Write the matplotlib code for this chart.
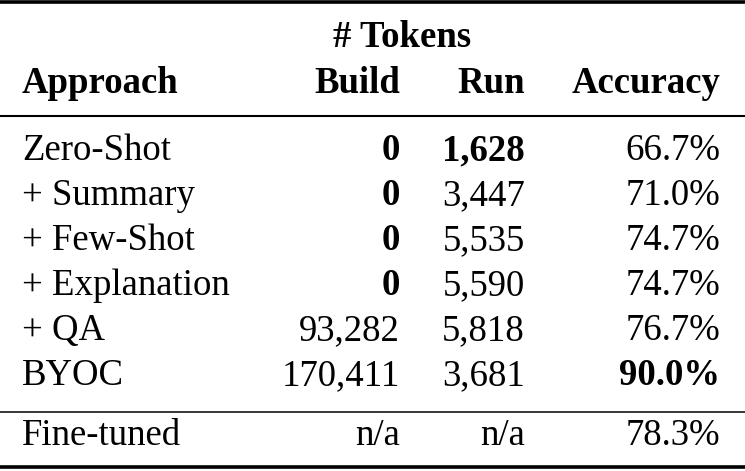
import matplotlib.pyplot as plt

plt.rcParams['font.family'] = ['Liberation Serif', 'DejaVu Serif']

# table contents
approaches = ['Zero-Shot', '+ Summary', '+ Few-Shot', '+ Explanation', '+ QA', 'BYOC', 'Fine-tuned']
build_tokens = [0, 0, 0, 0, 93282, 170411, None]
run_tokens = [1628, 3447, 5535, 5590, 5818, 3681, None]
accuracy = [66.7, 71.0, 74.7, 74.7, 76.7, 90.0, 78.3]
headers = ['Approach', 'Build', 'Run', 'Accuracy']
group_header = '# Tokens'

W, H = 745, 471
FS = 26.5

fig = plt.figure(figsize=(W / 100, H / 100), dpi=100)
ax = fig.add_axes([0, 0, 1, 1])
ax.set_xlim(0, W)
ax.set_ylim(H, 0)
ax.axis('off')

# column anchors (pixels)
x_app = 22
x_build = 400
x_run = 525
x_acc = 720
header_y = 93
group_y = 47
row_y = [160, 205, 250, 295, 340, 385, 445]


def fmt(v):
    return 'n/a' if v is None else f'{v:,}'


best_build = min(v for v in build_tokens if v is not None)
best_run = min(v for v in run_tokens if v is not None)
best_acc = max(accuracy)

# headers
ax.text(402, group_y, group_header, fontsize=FS, fontweight='bold',
        ha='center', va='baseline')
ax.text(x_app, header_y, headers[0], fontsize=FS, fontweight='bold', ha='left', va='baseline')
ax.text(x_build, header_y, headers[1], fontsize=FS, fontweight='bold', ha='right', va='baseline')
ax.text(x_run, header_y, headers[2], fontsize=FS, fontweight='bold', ha='right', va='baseline')
ax.text(x_acc, header_y, headers[3], fontsize=FS, fontweight='bold', ha='right', va='baseline')

for i, name in enumerate(approaches):
    y = row_y[i]
    ax.text(x_app, y, name, fontsize=FS, ha='left', va='baseline')
    b = build_tokens[i]
    ax.text(x_build, y, fmt(b), fontsize=FS, ha='right', va='baseline',
            fontweight='bold' if b == best_build else 'normal')
    r = run_tokens[i]
    ax.text(x_run, y, fmt(r), fontsize=FS, ha='right', va='baseline',
            fontweight='bold' if r == best_run else 'normal')
    a = accuracy[i]
    ax.text(x_acc, y, f'{a:.1f}%', fontsize=FS, ha='right', va='baseline',
            fontweight='bold' if a == best_acc else 'normal')

# rules
ax.axhline(1.8, color='black', linewidth=2.6)
ax.axhline(116, color='black', linewidth=1.5)
ax.axhline(412, color='black', linewidth=1.1)
ax.axhline(466.5, color='black', linewidth=2.6)

fig.savefig('out.png', dpi=100)
